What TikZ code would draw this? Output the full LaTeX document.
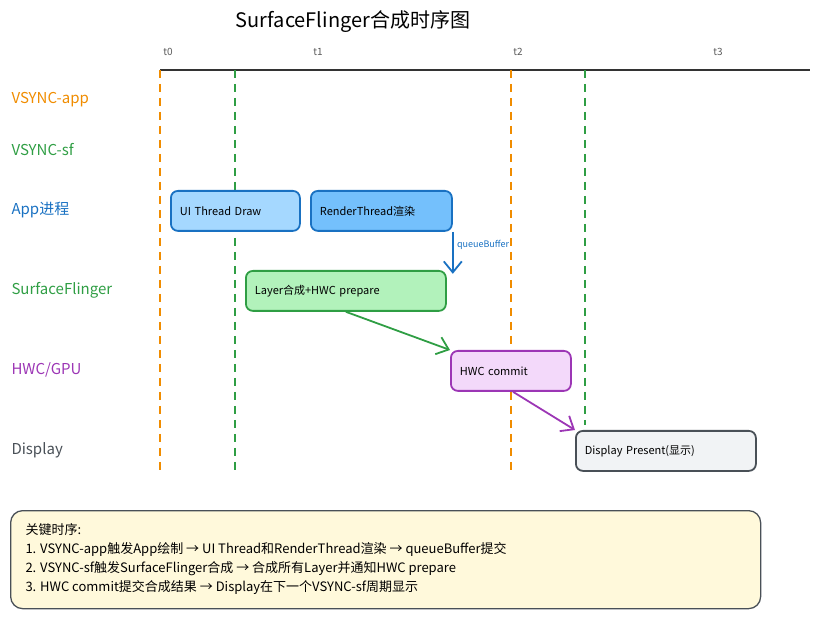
\documentclass[tikz,border=0pt]{standalone}
\usepackage{fontspec}
\setmainfont{Noto Sans CJK SC}
\usetikzlibrary{arrows.meta}
\definecolor{org}{HTML}{F08C00}
\definecolor{grn}{HTML}{2F9E44}
\definecolor{blu}{HTML}{1971C2}
\definecolor{pur}{HTML}{9C36B5}
\definecolor{gry}{HTML}{495057}
\tikzset{
 box/.style={draw, line width=1.8pt, rounded corners=7pt, anchor=north west, inner ysep=0pt, inner xsep=9pt, font=\fontsize{11}{13}\selectfont, align=left},
 lane/.style={anchor=west, font=\fontsize{15}{18}\selectfont},
 vline/.style={line width=1.6pt, dash pattern=on 8pt off 6pt},
 conn/.style={line width=1.8pt, -{Straight Barb[length=11pt,width=18pt]}},
 tick/.style={font=\fontsize{10}{12}\selectfont, gray!70!black},
}
\begin{document}
\begin{tikzpicture}[x=1pt,y=-1pt]
\useasboundingbox (0,0) rectangle (820,620);
\node[font=\fontsize{20}{24}\selectfont] (title) at (353,22) {SurfaceFlinger合成时序图};
\coordinate (ax0) at (160,70); \coordinate (ax1) at (810,70);
\draw[line width=1.2pt, black!80] (ax0) -- (ax1);
\node[tick] (t0) at (168,52) {t0};
\node[tick] (t1) at (318,52) {t1};
\node[tick] (t2) at (518,52) {t2};
\node[tick] (t3) at (718,52) {t3};
\coordinate (o1a) at (160,70); \coordinate (o1b) at (160,470);
\coordinate (o2a) at (511,70); \coordinate (o2b) at (511,470);
\coordinate (g1a) at (235,70); \coordinate (g1b) at (235,470);
\coordinate (g2a) at (585,70); \coordinate (g2b) at (585,425);
\draw[vline, org] (o1a) -- (o1b);
\draw[vline, org] (o2a) -- (o2b);
\draw[vline, grn] (g1a) -- (g1b);
\draw[vline, grn] (g2a) -- (g2b);
\node[lane, org] (l1) at (8,100) {VSYNC-app};
\node[lane, grn] (l2) at (8,150) {VSYNC-sf};
\node[lane, blu] (l3) at (8,210) {App进程};
\node[lane, grn] (l4) at (8,290) {SurfaceFlinger};
\node[lane, pur] (l5) at (8,370) {HWC/GPU};
\node[lane, gry] (l6) at (8,450) {Display};
\node[box, draw=blu, fill={rgb,255:red,165;green,216;blue,255}, minimum width=129pt, minimum height=40pt, text width=111pt] (ui) at (170,190) {UI Thread Draw};
\node[box, draw=blu, fill={rgb,255:red,116;green,192;blue,252}, minimum width=141pt, minimum height=40pt, text width=123pt] (rt) at (310,190) {RenderThread渲染};
\node[box, draw=grn, fill={rgb,255:red,178;green,242;blue,187}, minimum width=200pt, minimum height=40pt, text width=182pt] (ly) at (245,270) {Layer合成+HWC prepare};
\node[box, draw=pur, fill={rgb,255:red,243;green,217;blue,250}, minimum width=120pt, minimum height=40pt, text width=102pt] (hwc) at (450,350) {HWC commit};
\node[box, draw=gry, fill={rgb,255:red,241;green,243;blue,245}, minimum width=180pt, minimum height=40pt, text width=162pt] (dp) at (575,430) {Display Present(显示)};
\draw[conn, blu] (rt.south east) -- ++(0,42) node[pos=0.3, right, font=\fontsize{9}{11}\selectfont, blu] {queueBuffer};
\draw[conn, grn] (ly.south) -- (hwc.north west);
\draw[conn, pur] ([xshift=2pt]hwc.south east -| o2a) -- (dp.north west);
\node[box, draw=gry, line width=1.3pt, rounded corners=12pt, fill={rgb,255:red,255;green,249;blue,219}, minimum width=750pt, minimum height=98pt, text width=730pt] (note) at (10,510) {};
\node[anchor=north west, align=left, font=\fontsize{13}{19}\selectfont] (notetxt) at (22,520) {关键时序:\\1. VSYNC-app触发App绘制 → UI Thread和RenderThread渲染 → queueBuffer提交\\2. VSYNC-sf触发SurfaceFlinger合成 → 合成所有Layer并通知HWC prepare\\3. HWC commit提交合成结果 → Display在下一个VSYNC-sf周期显示};
\end{tikzpicture}
\end{document}
